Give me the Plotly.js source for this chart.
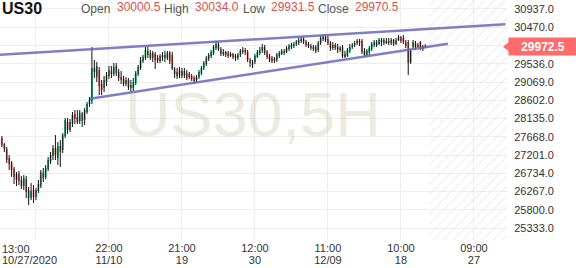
<!DOCTYPE html>
<html><head><meta charset="utf-8">
<script src="https://cdn.plot.ly/plotly-3.0.1.min.js"></script>
<style>html,body{margin:0;padding:0;background:#fff}#chart{width:576px;height:268px}</style>
</head><body><div id="chart"></div>
<script>
const symbolName = 'US30';
const watermarkText = 'US30,5H';
const headerLabels = ['Open', 'High', 'Low', 'Close'];

const openV = [27635,27482,27354,27124,26996,26842,26561,26714,26561,26407,26586,26305,26100,26305,26126,26279,26407,26740,26638,26842,27021,27175,27379,27124,27431,27328,27687,28045,27840,27994,28250,28173,28070,28250,28096,28301,28506,28582,29427,29197,29376,29017,28915,29069,29222,29350,29273,29478,29325,29197,29145,29017,29120,28992,28915,29043,29273,29427,29606,29683,29862,29811,29683,29785,29683,29606,29708,29760,29683,29811,29760,29401,29222,29376,29222,29350,29299,29273,29222,29171,29120,29197,29299,29427,29529,29657,29734,29811,29939,30041,29913,29785,29836,29811,29734,29785,29734,29683,29760,29836,29888,29836,29632,29504,29580,29708,29811,29888,29964,29836,29734,29683,29606,29632,29734,29785,29862,29836,29913,29964,29990,30041,30067,30118,30169,30092,30041,29990,29913,29964,29888,30067,30169,30220,30169,30067,29939,30015,29964,29888,29964,29785,29734,29862,29964,30015,30067,30118,30118,29862,29760,29836,29913,30015,30092,30041,30092,30143,30067,30118,30067,30143,30041,30143,30220,30195,30092,30092,29580,29964,30067,29964,30092,29990,30000.5];
const highV = [27687,27507,27405,27200,27047,26893,26766,26791,26663,26689,26663,26382,26484,26433,26356,26561,26817,26868,26945,27149,27277,27456,27712,27533,27584,27763,28147,28147,28122,28301,28352,28352,28352,28301,28403,28557,28685,29964,29632,29580,29452,29120,29222,29325,29478,29478,29555,29555,29401,29350,29222,29197,29171,29120,29171,29350,29504,29708,29760,29964,29964,29888,29862,29836,29760,29785,29836,29862,29862,29862,29836,29452,29427,29452,29427,29427,29376,29325,29273,29222,29248,29376,29478,29606,29734,29811,29888,30015,30118,30092,29964,29913,29862,29862,29836,29811,29785,29811,29913,29964,29939,29888,29683,29632,29785,29888,29964,30041,30015,29888,29785,29734,29708,29811,29862,29913,29913,29990,30041,30067,30092,30143,30195,30220,30220,30143,30092,30041,30015,30015,30118,30246,30271,30271,30246,30118,30092,30067,30041,29990,30015,29862,29939,30041,30067,30118,30169,30169,30169,29939,29913,29990,30092,30143,30143,30195,30195,30195,30195,30195,30195,30169,30195,30271,30246,30271,30143,30143,29913,30143,30118,30067,30118,30015,30034.0];
const lowV = [27405,27277,26996,26817,26638,26458,26407,26433,26331,26305,26100,25921,26049,25972,26049,26228,26356,26510,26586,26791,26970,27073,27073,26945,26893,27252,27635,27738,27789,27917,27994,27994,27994,27917,27968,28250,28429,28506,29171,29069,28736,28736,28813,28966,29145,29171,29222,29222,29094,29017,28966,28966,28864,28813,28838,28992,29222,29376,29555,29632,29683,29632,29580,29401,29555,29555,29606,29580,29632,29529,29376,29171,29145,29171,29171,29171,29120,29145,29094,29017,29043,29145,29248,29376,29478,29606,29683,29760,29888,29862,29734,29734,29708,29683,29708,29657,29606,29632,29708,29785,29760,29580,29452,29427,29529,29683,29760,29811,29760,29657,29580,29555,29555,29580,29683,29760,29760,29811,29862,29913,29939,29990,30015,30067,30041,29964,29939,29888,29862,29811,29836,30015,30118,30092,30015,29862,29888,29888,29811,29836,29683,29683,29708,29811,29913,29964,30015,29990,29785,29708,29708,29760,29862,29964,29964,30015,29990,30015,30041,30015,30015,29990,30015,30118,30067,30041,29939,29248,29529,29939,29888,29939,29888,29862,29931.5];
const closeV = [27456,27354,27073,26970,26817,26638,26714,26535,26407,26612,26254,26100,26279,26126,26305,26458,26766,26612,26868,27073,27200,27379,27200,27431,27277,27712,28096,27840,28045,28224,28122,28045,28275,28070,28352,28506,28608,29427,29325,29478,28966,28864,29120,29248,29376,29273,29452,29299,29171,29120,29017,29120,28941,28915,29069,29299,29452,29632,29708,29888,29760,29683,29811,29632,29606,29734,29760,29683,29811,29606,29401,29273,29325,29248,29350,29248,29171,29197,29145,29094,29197,29325,29427,29555,29683,29760,29836,29964,30041,29913,29785,29836,29760,29734,29785,29708,29683,29760,29862,29888,29836,29632,29555,29580,29734,29836,29888,29964,29811,29708,29632,29606,29657,29760,29811,29862,29811,29939,29990,30015,30041,30092,30143,30169,30092,30015,29990,29939,29964,29862,30067,30195,30220,30143,30067,29939,30015,29939,29888,29939,29734,29708,29888,29964,30015,30067,30118,30067,29836,29760,29862,29939,30041,30092,30015,30143,30143,30067,30118,30067,30143,30041,30143,30220,30118,30092,29990,29555,29862,30092,29964,30015,29939,29913,29970.5];

const lastQuote = 29972.5;
const yTickVals = [25333,25800,26267,26734,27201,27668,28135,28602,29069,29536,30003,30470,30937];
const xTickIdx = [14,44,74,104,134,164,194];
const xTickTime = ['13:00','22:00','21:00','12:00','11:00','10:00','09:00'];
const xTickDate = ['10/27/2020','11/10','19','30','12/09','18','27'];

const trendUpperX = [-1, 207];
const trendUpperY = [29766, 30546];
const trendLowerX = [36.2, 183.3];
const trendLowerY = [28641, 30049];

// ---- layout constants ----
const X_MIN = -0.78, X_MAX = 207.6;
const Y_MIN = 25027, Y_MAX = 31167;
const PLOT_W = 507, PLOT_H = 240;
const FONT = 'Arial, "Liberation Sans", sans-serif';
const GREEN = '#1fc98a', RED = '#f4716a', PRICE_RED = '#ff6b6b', TREND = 'rgba(104,104,184,0.85)';

const idx = openV.map((_, i) => i);
const last = idx.length - 1;
const bodyColors = idx.map(i => closeV[i] >= openV[i] ? GREEN : RED);
const bodyLen = idx.map(i => closeV[i] - openV[i]);
const hatchStart = last + 1.5;
const yTickText = yTickVals.map(v => Math.abs(v - lastQuote) < 200 ? '' : v.toFixed(1));

const traces = [
  { type: 'scatter', mode: 'lines', x: [hatchStart, X_MAX, X_MAX, hatchStart], y: [Y_MIN, Y_MIN, Y_MAX, Y_MAX],
    fill: 'toself', fillcolor: 'rgba(255,255,255,0)', line: { width: 0 },
    fillpattern: { shape: '/', fgcolor: '#e0e0e0', bgcolor: 'rgba(255,255,255,0)', size: 7, solidity: 0.12 },
    hoverinfo: 'skip' },
  { type: 'ohlc', x: idx, open: openV, high: highV, low: lowV, close: closeV, tickwidth: 0,
    increasing: { line: { color: '#111111', width: 1 } }, decreasing: { line: { color: '#111111', width: 1 } },
    hoverinfo: 'skip' },
  { type: 'bar', x: idx, y: bodyLen, base: openV, width: 0.8, marker: { color: bodyColors, line: { width: 0 } }, hoverinfo: 'skip' },
  { type: 'scatter', mode: 'lines', x: trendUpperX, y: trendUpperY, line: { color: TREND, width: 2.5 }, hoverinfo: 'skip' },
  { type: 'scatter', mode: 'lines', x: trendLowerX, y: trendLowerY, line: { color: TREND, width: 2.5 }, hoverinfo: 'skip' },
  { type: 'scatter', mode: 'markers', x: [X_MAX], y: [lastQuote], cliponaxis: false,
    marker: { symbol: 'triangle-left', size: 8, color: PRICE_RED }, hoverinfo: 'skip' },
  { type: 'scatter', mode: 'markers', xaxis: 'x2', x: [idx[0]], y: [closeV[0]], marker: { opacity: 0 }, hoverinfo: 'skip' }
];

const px = v => v / PLOT_W;
const py = v => (PLOT_H - v) / PLOT_H;
const hdrLabelX = [79, 162, 241, 316];
const hdrValueX = [115, 193, 269, 353];
const hdrValues = [openV[last], highV[last], lowV[last], closeV[last]];

const annotations = [
  { text: watermarkText, xref: 'paper', yref: 'paper', x: px(253), y: py(114), showarrow: false,
    font: { family: FONT, size: 63, color: 'rgba(200,190,160,0.32)' } },
  { text: '<b>' + symbolName + '</b>', xref: 'paper', yref: 'paper', x: 0, y: py(8.5), xanchor: 'left', yanchor: 'middle',
    showarrow: false, font: { family: FONT, size: 16, color: '#111' } },
  { text: '<b>' + lastQuote.toFixed(1) + '</b>', xref: 'paper', yref: 'y', x: 1, xshift: 1, y: lastQuote, xanchor: 'left',
    yanchor: 'middle', showarrow: false, bgcolor: PRICE_RED, width: 66, height: 15, borderpad: 1,
    font: { family: FONT, size: 12, color: '#ffffff' } },
  { text: xTickTime[0], xref: 'paper', yref: 'paper', x: 0, y: py(248.5), xanchor: 'left', yanchor: 'middle', showarrow: false,
    font: { family: FONT, size: 11, color: '#333' } },
  { text: xTickDate[0], xref: 'paper', yref: 'paper', x: 0, y: py(260), xanchor: 'left', yanchor: 'middle', showarrow: false,
    font: { family: FONT, size: 11, color: '#333' } }
];
headerLabels.forEach((lab, k) => {
  annotations.push({ text: lab, xref: 'paper', yref: 'paper', x: px(hdrLabelX[k]), y: py(9), xanchor: 'left', yanchor: 'middle',
    showarrow: false, font: { family: FONT, size: 12, color: '#555' } });
  annotations.push({ text: hdrValues[k].toFixed(1), xref: 'paper', yref: 'paper', x: px(hdrValueX[k]), y: py(7), xanchor: 'left',
    yanchor: 'middle', showarrow: false, font: { family: FONT, size: 12, color: '#d9534f' } });
});

const layout = {
  width: 576, height: 268,
  margin: { l: 0, r: 576 - PLOT_W, t: 0, b: 268 - PLOT_H, pad: 0 },
  paper_bgcolor: '#ffffff', plot_bgcolor: '#ffffff',
  showlegend: false, hovermode: false,
  xaxis: { range: [X_MIN, X_MAX], tickvals: xTickIdx, ticktext: [''].concat(xTickTime.slice(1)),
    showgrid: true, gridcolor: '#eeeeee', gridwidth: 1, zeroline: false, showline: false, ticks: '',
    tickfont: { family: FONT, size: 11, color: '#333' }, rangeslider: { visible: false }, ticklabelstandoff: 0, fixedrange: true },
  xaxis2: { overlaying: 'x', matches: 'x', anchor: 'y', side: 'bottom', tickvals: xTickIdx, ticktext: [''].concat(xTickDate.slice(1)),
    showgrid: false, zeroline: false, showline: false, ticks: '', ticklabelstandoff: 12,
    tickfont: { family: FONT, size: 11, color: '#333' }, fixedrange: true },
  yaxis: { range: [Y_MIN, Y_MAX], side: 'right', tickvals: yTickVals, ticktext: yTickText,
    showgrid: true, gridcolor: '#eeeeee', gridwidth: 1, zeroline: false, showline: false,
    ticks: 'outside', ticklen: 4, tickcolor: 'rgba(0,0,0,0)',
    tickfont: { family: FONT, size: 11, color: '#333' }, fixedrange: true },
  annotations: annotations
};

Plotly.newPlot('chart', traces, layout, { staticPlot: true, displayModeBar: false });
</script></body></html>
